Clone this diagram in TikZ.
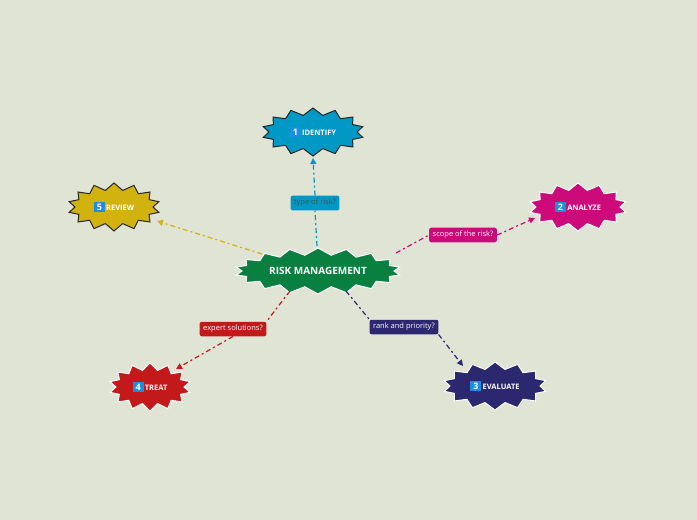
\documentclass[tikz,border=0pt]{standalone}
\usepackage{fontspec}
\setmainfont{Open Sans}
\usetikzlibrary{shapes.symbols,arrows.meta}
\definecolor{bg}{HTML}{DFE4D5}
\definecolor{cid}{HTML}{0099C6}
\definecolor{crev}{HTML}{D2B20E}
\definecolor{cana}{HTML}{CC0A7A}
\definecolor{ceva}{HTML}{2B2870}
\definecolor{ctre}{HTML}{C4191A}
\definecolor{ccen}{HTML}{0A8040}
\definecolor{badge}{HTML}{1A8FE0}
\tikzset{
 burst/.style={starburst, random starburst=0, starburst points=14, starburst point height=7pt, inner sep=0pt, font=\bfseries\fontsize{7.5}{8}\selectfont, text=white, line width=1pt},
 lbl/.style={rounded corners=2pt, inner sep=3.5pt, font=\fontsize{7.5}{9}\selectfont, text=white},
 seg/.style={line width=1.2pt, dash pattern=on 5pt off 3pt on 2pt off 3pt},
 conn/.style={seg, -{Triangle[length=6pt,width=6pt]}},
}
\newcommand{\bdg}[1]{{\setlength\fboxsep{1.5pt}\colorbox{badge}{\makebox[8pt]{\fontsize{9}{9}\selectfont\bfseries #1}}}\,}
\begin{document}
\begin{tikzpicture}[x=1pt,y=-1pt]
\fill[bg] (0,0) rectangle (697,520);
\useasboundingbox (0,0) rectangle (697,520);
\node[burst, fill=ccen, draw=white, minimum width=166pt, minimum height=46pt, starburst points=18, font=\bfseries\fontsize{10}{10}\selectfont] (c) at (318,271) {RISK MANAGEMENT};
\node[burst, fill=cid, draw=black!85, minimum width=102pt, minimum height=48pt] (id) at (313,132) {\bdg{1}IDENTIFY};
\node[burst, fill=crev, draw=black!85, minimum width=92pt, minimum height=48pt] (rv) at (114,207) {\bdg{5}REVIEW};
\node[burst, fill=cana, draw=white, minimum width=98pt, minimum height=48pt] (an) at (578,207) {\bdg{2}ANALYZE};
\node[burst, fill=ceva, draw=white, minimum width=104pt, minimum height=48pt] (ev) at (495,386) {\bdg{3}EVALUATE};
\node[burst, fill=ctre, draw=white, minimum width=82pt, minimum height=48pt] (tr) at (150,387) {\bdg{4}TREAT};
\node[lbl, fill=cid, text=black!70] (l1) at (315,203) {type of risk?};
\node[lbl, fill=cana] (l2) at (463,235) {scope of the risk?};
\node[lbl, fill=ctre] (l4) at (233,329) {expert solutions?};
\node[lbl, fill=ceva] (l3) at (404,327) {rank and priority?};
\draw[seg, draw=cid] (317,246) -- (l1.south);
\draw[conn, draw=cid] (l1.north) -- (313,158);
\draw[conn, draw=crev] (262,254) -- (157,221);
\draw[seg, draw=cana] (396,253) -- (l2.west);
\draw[conn, draw=cana] (l2.east) -- (535,218);
\draw[seg, draw=ctre] (290,291) -- (l4.north east);
\draw[conn, draw=ctre] (l4.south) -- (176,369);
\draw[seg, draw=ceva] (346,291) -- (l3.north west);
\draw[conn, draw=ceva] (l3.south east) -- (463,366);
\end{tikzpicture}
\end{document}
